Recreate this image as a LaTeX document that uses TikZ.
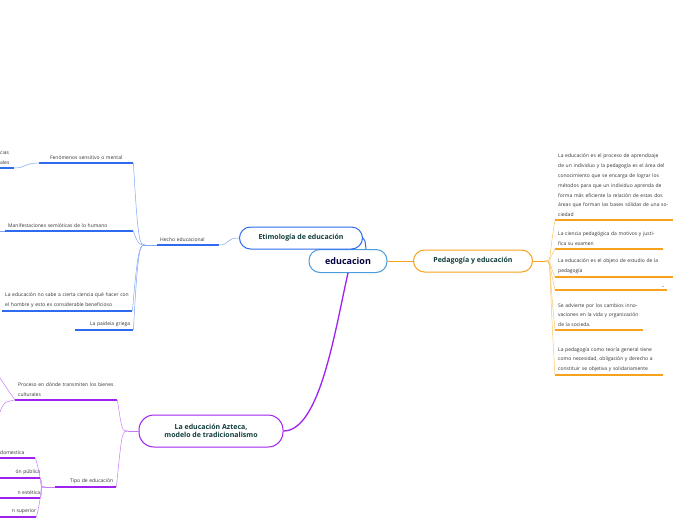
\documentclass[tikz,border=0pt]{standalone}
\usepackage{fontspec}
\setmainfont{Open Sans}
\definecolor{cblue}{HTML}{2F6BF0}
\definecolor{lblue}{HTML}{7FA6F5}
\definecolor{corange}{HTML}{F7A21B}
\definecolor{lorange}{HTML}{FBC56A}
\definecolor{cpurple}{HTML}{A020F0}
\definecolor{lpurple}{HTML}{C77BF5}
\definecolor{ccenter}{HTML}{4A9CDB}
\definecolor{ctext}{HTML}{0F3D3A}
\begin{document}
\begin{tikzpicture}[x=1pt,y=-1pt,
  main/.style={draw,rounded corners=11pt,line width=1pt,fill=white,font=\bfseries\fontsize{7}{8}\selectfont,text=ctext,align=center},
  leaf/.style={anchor=south west,inner xsep=3pt,inner ysep=3pt,font=\fontsize{5}{9.8}\selectfont,text=black!80,align=left},
  uline/.style={line width=1.3pt},
  conn/.style={line width=0.5pt}]
\useasboundingbox (0,0) rectangle (696,520);
% central
\node[main,draw=ccenter,minimum width=78pt,minimum height=23pt,font=\bfseries\fontsize{9}{10}\selectfont,text=black!75!blue] (c) at (348,261) {educacion};
\node[main,draw=cblue,minimum width=123pt,minimum height=22pt] (et) at (301,238) {Etimología de educación};
\node[main,draw=corange,minimum width=119pt,minimum height=22pt] (pe) at (473,261) {Pedagogía y educación};
\node[main,draw=cpurple,minimum width=144pt,minimum height=32pt,rounded corners=15pt] (az) at (211,431) {La educación Azteca,\\ modelo de tradicionalismo};
\draw[cblue,line width=1pt] (c.north) ++(18,0) coordinate (cb) .. controls (365,240) .. (et.east);
\draw[corange,line width=1pt] (c.east) -- (pe.west);
\draw[cpurple,line width=1.3pt] (c.south) .. controls (335,330) and (320,431) .. (az.east);
% blue branch
\node[leaf,text width=56pt] (he) at (157,245) {Hecho educacional};
\draw[cblue,uline] (he.south west)--(he.south east);
\draw[lblue,conn] (he.south east) .. controls (230,245) and (225,238) .. (et.west);
\coordinate (hj) at (145,245);
\draw[lblue,conn] (he.south west) -- (hj);
\node[leaf,text width=88pt,align=center] (f1) at (39,163) {Fenómenos sensitivo o mental};
\node[leaf,text width=122pt] (f2) at (5,231) {Manifestaciones semióticas de lo humano};
\node[leaf,text width=124pt] (f3) at (2,311) {La educación no sabe a cierta ciencia qué hacer con el hombre y esto es considerable beneficioso};
\node[leaf,text width=52pt,align=right] (f4) at (75,330) {La paideia griega};
\foreach \n in {f1,f2,f3,f4}{
  \draw[cblue,uline] (\n.south west)--(\n.south east);
  \draw[lblue,conn] (hj) .. controls (140,245) and (138,245) .. (\n.south east);
}
\node[leaf,text width=14pt,inner xsep=0pt] (f11) at (0,168) {cias\\ales};
\draw[cblue,uline] (f11.south west)--(f11.south east);
\draw[lblue,conn] (f11.south east) .. controls (25,168) and (25,163) .. (f1.south west);
\coordinate (f2l) at (0,231);
\draw[lblue,conn] (f2l) -- (f2.south west);
% orange branch
\coordinate (oj) at (545,261);
\draw[corange,line width=1pt] (pe.east) -- (oj);
\node[leaf,text width=112pt] (o1) at (555,220) {La educación es el proceso de aprendizaje de un individuo y la pedagogía es el área del conocimiento que se encarga de lograr los métodos para que un individuo aprenda de forma más eficiente la relación de estas dos áreas que forman las bases sólidas de una sociedad};
\node[leaf,text width=102pt] (o2) at (555,249) {La ciencia pedagógica da motivos y justifica su examen};
\node[leaf,text width=112pt] (o3) at (555,277) {La educación es el objeto de estudio de la pedagogía};
\node[leaf,text width=106pt,align=right] (o4) at (555,290) {\_};
\node[leaf,text width=82pt] (o5) at (555,330) {Se advierte por los cambios innovaciones en la vida y organización de la socieda.};
\node[leaf,text width=102pt] (o6) at (555,375) {La pedagogía como teoría general tiene como necesidad, obligación y derecho a constituir se objetiva y solidariamente};
\foreach \n in {o1,o2,o3,o4,o5,o6}{
  \draw[corange,uline] (\n.south west)--(\n.south east);
  \draw[lorange,conn] (oj) .. controls (552,261) and (548,261) .. (\n.south west);
}
% purple branch
\coordinate (pj) at (128,431);
\draw[lpurple,conn] (az.west) -- (pj);
\node[leaf,text width=96pt] (p1) at (15,400) {Proceso en dónde transmiten los bienes culturales};
\node[leaf,text width=55pt,align=right] (p2) at (55,487) {Tipo de educación};
\foreach \n in {p1,p2}{
  \draw[cpurple,uline] (\n.south west)--(\n.south east);
  \draw[lpurple,conn] (pj) .. controls (122,431) and (122,431) .. (\n.south east);
}
\coordinate (pl1) at (0,378);
\coordinate (pl2) at (0,412);
\draw[lpurple,conn] (pl1) .. controls (8,390) .. (p1.south west);
\draw[lpurple,conn] (pl2) .. controls (4,402) .. (p1.south west);
\coordinate (tj) at (45,487);
\draw[lpurple,conn] (p2.south west) -- (tj);
\node[leaf,text width=35pt,inner xsep=0pt] (t1) at (0,458) {domestica};
\node[leaf,text width=40pt,inner xsep=0pt,align=right] (t2) at (0,478) {ón pública};
\node[leaf,text width=40pt,inner xsep=0pt,align=right] (t3) at (0,498) {n estética};
\node[leaf,text width=36pt,inner xsep=0pt,align=right] (t4) at (0,517) {n superior};
\foreach \n in {t1,t2,t3,t4}{
  \draw[cpurple,uline] (\n.south west)--(\n.south east);
  \draw[lpurple,conn] (tj) .. controls (38,487) and (44,487) .. (\n.south east);
}
\end{tikzpicture}
\end{document}
